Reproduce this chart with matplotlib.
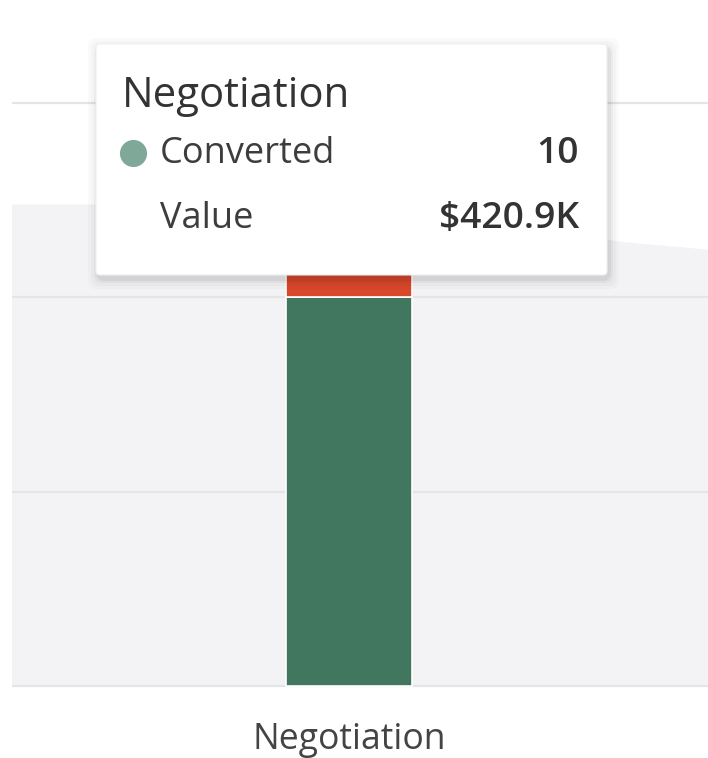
import matplotlib
matplotlib.use("Agg")
import matplotlib.pyplot as plt
from matplotlib.patches import FancyBboxPatch
from matplotlib.lines import Line2D

# ---- data ----
stages = ["Negotiation"]
converted = [10]
lost = [1]
tooltip_title = "Negotiation"
tooltip_rows = ["Converted", "Value"]
tooltip_vals = ["10", "$420.9K"]
band_x = [-0.97, 0.20, 0.74, 0.777, 1.03]
band_top = [12.4, 12.4, 11.50, 11.44, 11.24]
y_ticks = [0, 5, 10, 15]

W, H = 708, 758
DPI = 100
fig = plt.figure(figsize=(W / DPI, H / DPI), dpi=DPI)
fig.patch.set_facecolor("white")
FONT = "Open Sans"

# axes placement (pixels)
px_per_unit = 38.86
ymin, ymax = -0.1, 17.65
ax_bottom_px = 686 + 0.1 * px_per_unit
ax_left_px, ax_right_px = 12, 708
ax = fig.add_axes([ax_left_px / W, (H - ax_bottom_px) / H,
                   (ax_right_px - ax_left_px) / W, ax_bottom_px / H])
ax.set_facecolor("white")
ax.set_ylim(ymin, ymax)
ax.set_xlim(-0.965, 1.029)

# background funnel band
ax.fill_between(band_x, 0, band_top, color="#f3f3f5", lw=0, zorder=0)

# gridlines
ax.set_yticks(y_ticks)
ax.yaxis.grid(True, color="#e5e5e9", lw=1.6, zorder=1)
ax.tick_params(axis="y", left=False, labelleft=False)
for s in ax.spines.values():
    s.set_visible(False)

# bars
xpos = list(range(len(stages)))
ax.bar(xpos, converted, width=0.36, color="#41775f", edgecolor="white",
       lw=1.2, zorder=3)
ax.bar(xpos, lost, bottom=converted, width=0.36, color="#d9482b",
       edgecolor="white", lw=1.2, zorder=3)

ax.set_xticks(xpos)
ax.set_xticklabels(stages, fontfamily=FONT, fontsize=25.6, color="#444444")
ax.tick_params(axis="x", length=0, pad=23)

# ---- tooltip ----
def fx(px):
    return px / W

def fy(py):
    return 1 - py / H

bx0, bx1, by0, by1 = 96, 607, 44, 275
for i, (g, a) in enumerate([(10, 0.018), (7, 0.025), (4, 0.035), (2, 0.05)]):
    sh = FancyBboxPatch((fx(bx0 - g + 2), fy(by1 + g + 4)),
                        fx(bx1 - bx0 + 2 * g), (by1 - by0 + 2 * g) / H,
                        boxstyle="round,pad=0,rounding_size=0.012",
                        transform=fig.transFigure, facecolor="black",
                        edgecolor="none", alpha=a, zorder=9)
    fig.add_artist(sh)
box = FancyBboxPatch((fx(bx0), fy(by1)), fx(bx1 - bx0), (by1 - by0) / H,
                     boxstyle="round,pad=0,rounding_size=0.005",
                     transform=fig.transFigure, facecolor="white",
                     edgecolor="#eeeeee", lw=0.8, zorder=10)
fig.add_artist(box)

fig.text(fx(122), fy(106.7), tooltip_title, fontfamily=FONT, fontsize=30.2,
         color="#333333", va="baseline", ha="left", zorder=11)
fig.add_artist(Line2D([fx(132.7)], [fy(152.7)], marker="o", markersize=18.5,
                      color="#7fa898", lw=0, transform=fig.transFigure,
                      zorder=11))
row_base = [162.7, 228.3]
for lab, val, yb in zip(tooltip_rows, tooltip_vals, row_base):
    fig.text(fx(160), fy(yb), lab, fontfamily=FONT, fontsize=26,
             color="#3d3d3d", va="baseline", ha="left", zorder=11)
    fig.text(fx(579), fy(yb), val, fontfamily=FONT, fontsize=26.8,
             fontweight="semibold", color="#333333", va="baseline",
             ha="right", zorder=11)

fig.savefig("out.png", dpi=DPI)
